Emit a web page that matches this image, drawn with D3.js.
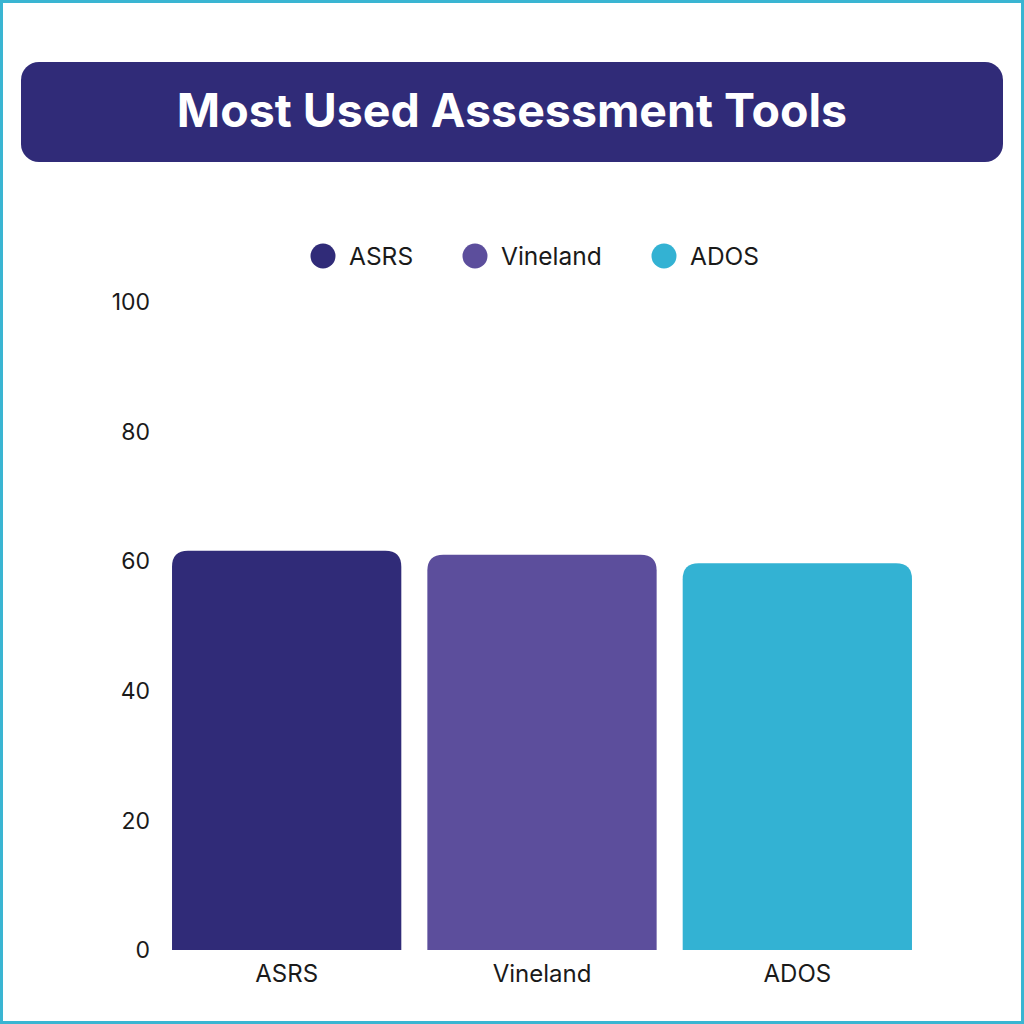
<!DOCTYPE html>
<html><head><meta charset="utf-8">
<script src="https://cdn.jsdelivr.net/npm/d3@7"></script>
<style>html,body{margin:0;padding:0;background:#fff}svg{display:block}</style>
</head><body><svg id="c" width="1024" height="1024"></svg>
<script>
const title = "Most Used Assessment Tools";
const categories = ["ASRS", "Vineland", "ADOS"];
const values = [61.6, 61.0, 59.7];
const colors = ["#302b78", "#5c4e9c", "#33b2d3"];
const yTicks = [0, 20, 40, 60, 80, 100];

const svg = d3.select("#c");
const font = "Inter, 'Open Sans', sans-serif";

// border
svg.append("rect").attr("x",1.5).attr("y",1.5).attr("width",1021).attr("height",1021)
  .attr("fill","#fff").attr("stroke","#3ab5d2").attr("stroke-width",3);

// title box
svg.append("rect").attr("x",21).attr("y",62).attr("width",982).attr("height",100)
  .attr("rx",18).attr("fill","#302b78");
svg.append("text").attr("x",512).attr("y",127).attr("text-anchor","middle")
  .attr("font-family",font).attr("font-weight",700).attr("font-size",46.5)
  .attr("fill","#fff").text(title);

// scales
const x = d3.scaleBand().domain(categories).range([159, 925]).paddingInner(0.102).paddingOuter(0.051);
const y = d3.scaleLinear().domain([0, 100]).range([950, 302]);

// y labels
svg.append("g").selectAll("text").data(yTicks).join("text")
  .attr("x",150).attr("y",d=>y(d)).attr("dy","0.36em").attr("text-anchor","end")
  .attr("font-family",font).attr("font-size",23).attr("fill","#1a1a1a").text(d=>d);

// bars with rounded top
function topRounded(x0, y0, w, h, r){
  r = Math.min(r, w/2, h);
  return `M${x0},${y0+h}V${y0+r}Q${x0},${y0} ${x0+r},${y0}H${x0+w-r}Q${x0+w},${y0} ${x0+w},${y0+r}V${y0+h}Z`;
}
svg.append("g").selectAll("path").data(categories).join("path")
  .attr("d",(d,i)=>topRounded(x(d), y(values[i]), x.bandwidth(), y(0)-y(values[i]), 16))
  .attr("fill",(d,i)=>colors[i]);

// x labels
svg.append("g").selectAll("text").data(categories).join("text")
  .attr("x",d=>x(d)+x.bandwidth()/2).attr("y",973).attr("dy","0.36em").attr("text-anchor","middle")
  .attr("font-family",font).attr("font-size",24).attr("fill","#1a1a1a").text(d=>d);

// legend
const legendX = [323, 475, 664];
const lg = svg.append("g").selectAll("g").data(categories).join("g")
  .attr("transform",(d,i)=>`translate(${legendX[i]},256)`);
lg.append("circle").attr("r",12.5).attr("fill",(d,i)=>colors[i]);
lg.append("text").attr("x",26).attr("dy","0.36em")
  .attr("font-family",font).attr("font-size",24.5).attr("fill","#1a1a1a").text(d=>d);
</script></body></html>
